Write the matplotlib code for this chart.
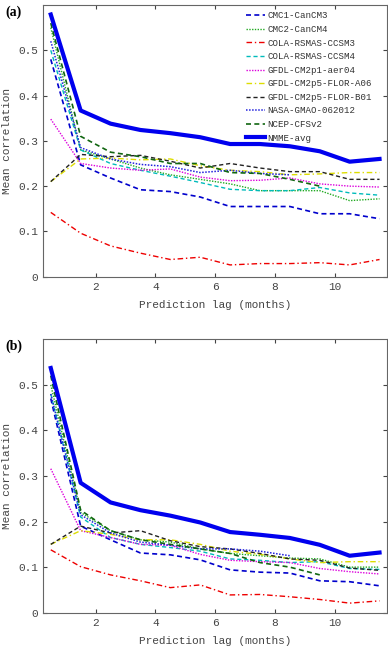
import numpy as np
import matplotlib
matplotlib.use('Agg')
import matplotlib.pyplot as plt

nan = np.nan
lags = [0.5, 1.5, 2.5, 3.5, 4.5, 5.5, 6.5, 7.5, 8.5, 9.5, 10.5, 11.5]
models = ['CMC1-CanCM3', 'CMC2-CanCM4', 'COLA-RSMAS-CCSM3', 'COLA-RSMAS-CCSM4',
          'GFDL-CM2p1-aer04', 'GFDL-CM2p5-FLOR-A06', 'GFDL-CM2p5-FLOR-B01',
          'NASA-GMAO-062012', 'NCEP-CFSv2', 'NMME-avg']

# panel (a)
corr_a = {
    'CMC1-CanCM3':         [0.48, 0.247, 0.218, 0.192, 0.188, 0.176, 0.155, 0.155, 0.155, 0.139, 0.139, 0.128],
    'CMC2-CanCM4':         [0.55, 0.28, 0.26, 0.24, 0.225, 0.215, 0.205, 0.19, 0.19, 0.19, 0.168, 0.172],
    'COLA-RSMAS-CCSM3':    [0.142, 0.096, 0.068, 0.052, 0.038, 0.043, 0.026, 0.029, 0.029, 0.031, 0.026, 0.038],
    'COLA-RSMAS-CCSM4':    [0.50, 0.28, 0.25, 0.235, 0.222, 0.208, 0.193, 0.19, 0.19, 0.197, 0.185, 0.18],
    'GFDL-CM2p1-aer04':    [0.348, 0.25, 0.24, 0.235, 0.238, 0.22, 0.212, 0.213, 0.218, 0.205, 0.20, 0.198],
    'GFDL-CM2p5-FLOR-A06': [0.21, 0.26, 0.262, 0.258, 0.26, 0.245, 0.235, 0.232, 0.225, 0.227, 0.23, 0.23],
    'GFDL-CM2p5-FLOR-B01': [0.21, 0.27, 0.265, 0.268, 0.255, 0.24, 0.25, 0.24, 0.232, 0.232, 0.215, 0.215],
    'NASA-GMAO-062012':    [0.52, 0.285, 0.26, 0.248, 0.243, 0.23, 0.235, 0.228, 0.225, nan, nan, nan],
    'NCEP-CFSv2':          [0.56, 0.31, 0.275, 0.265, 0.25, 0.25, 0.23, 0.228, 0.215, 0.20, nan, nan],
    'NMME-avg':            [0.579, 0.367, 0.338, 0.324, 0.317, 0.308, 0.293, 0.293, 0.288, 0.277, 0.254, 0.26],
}

# panel (b)
corr_b = {
    'CMC1-CanCM3':         [0.47, 0.19, 0.16, 0.131, 0.127, 0.116, 0.094, 0.089, 0.087, 0.07, 0.068, 0.059],
    'CMC2-CanCM4':         [0.50, 0.22, 0.18, 0.16, 0.155, 0.14, 0.13, 0.125, 0.12, 0.118, 0.10, 0.10],
    'COLA-RSMAS-CCSM3':    [0.138, 0.101, 0.083, 0.07, 0.055, 0.061, 0.039, 0.04, 0.035, 0.029, 0.021, 0.026],
    'COLA-RSMAS-CCSM4':    [0.48, 0.21, 0.165, 0.15, 0.143, 0.135, 0.118, 0.115, 0.11, 0.112, 0.097, 0.095],
    'GFDL-CM2p1-aer04':    [0.316, 0.18, 0.165, 0.15, 0.148, 0.128, 0.115, 0.112, 0.11, 0.097, 0.09, 0.085],
    'GFDL-CM2p5-FLOR-A06': [0.15, 0.18, 0.172, 0.16, 0.16, 0.15, 0.135, 0.128, 0.118, 0.11, 0.112, 0.112],
    'GFDL-CM2p5-FLOR-B01': [0.15, 0.19, 0.175, 0.18, 0.158, 0.145, 0.14, 0.13, 0.118, 0.115, 0.098, 0.093],
    'NASA-GMAO-062012':    [0.48, 0.215, 0.175, 0.155, 0.148, 0.14, 0.14, 0.135, 0.125, nan, nan, nan],
    'NCEP-CFSv2':          [0.52, 0.225, 0.18, 0.16, 0.15, 0.14, 0.13, 0.11, 0.10, 0.083, nan, nan],
    'NMME-avg':            [0.537, 0.285, 0.242, 0.225, 0.213, 0.198, 0.177, 0.171, 0.164, 0.149, 0.125, 0.132],
}

styles = {
    'CMC1-CanCM3':         dict(color='#0000cc', ls=(0, (3, 2)), lw=1.2),
    'CMC2-CanCM4':         dict(color='#22aa22', ls=(0, (1, 1)), lw=1.0),
    'COLA-RSMAS-CCSM3':    dict(color='#ee0000', ls=(0, (4, 2, 1, 2)), lw=1.0),
    'COLA-RSMAS-CCSM4':    dict(color='#00bbbb', ls=(0, (3, 2)), lw=1.0),
    'GFDL-CM2p1-aer04':    dict(color='#dd00dd', ls=(0, (1, 1)), lw=1.0),
    'GFDL-CM2p5-FLOR-A06': dict(color='#dddd00', ls=(0, (4, 2, 1, 2)), lw=1.0),
    'GFDL-CM2p5-FLOR-B01': dict(color='#222222', ls=(0, (3, 2)), lw=1.0),
    'NASA-GMAO-062012':    dict(color='#2222dd', ls=(0, (1, 1)), lw=1.1),
    'NCEP-CFSv2':          dict(color='#116611', ls=(0, (3, 2)), lw=1.2),
    'NMME-avg':            dict(color='#0000ee', ls='-', lw=3.0),
}

plt.rcParams['font.family'] = ['Liberation Mono', 'DejaVu Sans Mono']

fig = plt.figure(figsize=(3.88, 6.46), dpi=100)
W, H = 388, 646
boxes = [(43.3, 5, 387, 276.7), (43.3, 339.3, 387, 612.7)]
panels = [('(a)', corr_a, 12), ('(b)', corr_b, 346)]

for (x0, y0, x1, y1), (tag, data, ty) in zip(boxes, panels):
    ax = fig.add_axes([x0 / W, 1 - y1 / H, (x1 - x0) / W, (y1 - y0) / H])
    for m in models:
        ax.plot(lags, data[m], label=m, **styles[m])
    ax.set_xlim(0.25, 11.75)
    ax.set_ylim(0, 0.6)
    ax.set_xticks([2, 4, 6, 8, 10])
    ax.set_yticks([0, 0.1, 0.2, 0.3, 0.4, 0.5])
    ax.set_yticklabels(['0', '0.1', '0.2', '0.3', '0.4', '0.5'])
    ax.tick_params(direction='in', top=True, right=True, labelsize=8,
                   colors='#444444', length=3)
    for s in ax.spines.values():
        s.set_color('#666666')
        s.set_linewidth(0.8)
    ax.set_xlabel('Prediction lag (months)', fontsize=8, color='#444444', labelpad=6)
    ax.set_ylabel('Mean correlation', fontsize=8, color='#444444', labelpad=5)
    fig.text(5 / W, 1 - ty / H, tag, fontsize=10, fontweight='bold',
             family='Liberation Serif', va='center', ha='left')
    if tag == '(a)':
        ax.legend(loc='upper right', bbox_to_anchor=(0.975, 1.0), frameon=False,
                  fontsize=6.6, handlelength=2.0, handletextpad=0.3,
                  labelspacing=0.5, borderaxespad=0.3, labelcolor='#333333')

fig.savefig('out.png', dpi=100)
